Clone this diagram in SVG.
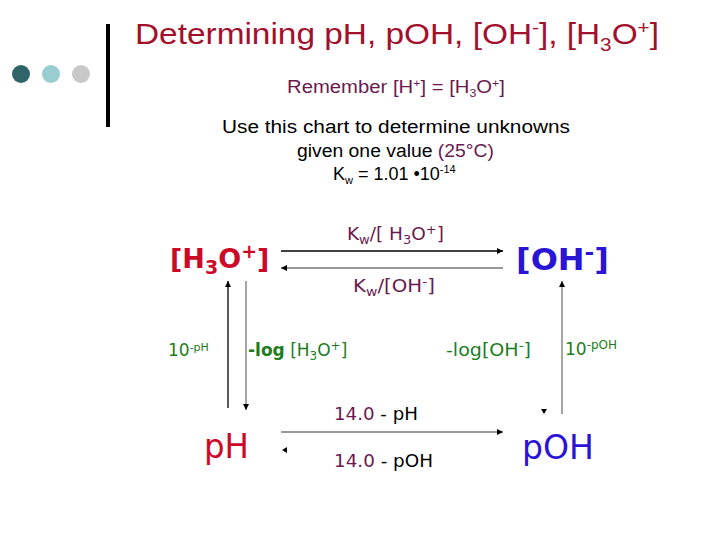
<svg xmlns="http://www.w3.org/2000/svg" width="720" height="540" viewBox="0 0 720 540">
<style>
.title{font-family:"Liberation Sans","DejaVu Sans",sans-serif;font-size:29px;fill:#a3102c}
.hdr{font-family:"Liberation Sans","DejaVu Sans",sans-serif;font-size:18px;fill:#000}
.pur{fill:#6b1a4f}
.lbl{font-family:"DejaVu Sans",sans-serif;font-size:17px}
.grn{fill:#1d7d1d}
.red{fill:#cc0a28}
.blue{fill:#2a14d6}
.ln{stroke:#000;stroke-width:1.3;fill:none}
.lg{stroke:#777;stroke-width:1.3;fill:none}
</style>
<defs>
<marker id="ah" viewBox="0 0 8 8" refX="8" refY="4" markerWidth="6" markerHeight="6" orient="auto" markerUnits="userSpaceOnUse">
<path d="M0,0 L8,4 L0,8 z" fill="#000"/>
</marker>
</defs>
<g id="bullets">
<circle cx="21" cy="74" r="9" fill="#2f6468"/>
<circle cx="51" cy="74" r="9" fill="#98cdd1"/>
<circle cx="81" cy="74" r="9" fill="#c8c8c8"/>
<rect x="106" y="24" width="4" height="103" fill="#000"/>
</g>
<g id="title">
<text class="title" x="135" y="44" textLength="524" lengthAdjust="spacingAndGlyphs">Determining pH, pOH, [OH<tspan dy="-10" font-size="18">-</tspan><tspan dy="10">], [H</tspan><tspan dy="7" font-size="18">3</tspan><tspan dy="-7">O</tspan><tspan dy="-10" font-size="18">+</tspan><tspan dy="10">]</tspan></text>
</g>
<g id="header">
<text class="hdr pur" x="287" y="93" font-size="17" textLength="218" lengthAdjust="spacingAndGlyphs">Remember [H<tspan dy="-6" font-size="11">+</tspan><tspan dy="6">] = [H</tspan><tspan dy="4" font-size="11">3</tspan><tspan dy="-4">O</tspan><tspan dy="-6" font-size="11">+</tspan><tspan dy="6">]</tspan></text>
<text class="hdr" x="222" y="133" textLength="348" lengthAdjust="spacingAndGlyphs">Use this chart to determine unknowns</text>
<text class="hdr" x="297" y="157" textLength="197" lengthAdjust="spacingAndGlyphs">given one value <tspan class="pur">(25°C)</tspan></text>
<text class="hdr" x="333" y="180">K<tspan dy="4" font-size="11">w</tspan><tspan dy="-4"> = 1.01 •10</tspan><tspan dy="-7" font-size="11">-14</tspan></text>
</g>
<g id="connectors">
<line class="ln" x1="281" y1="251" x2="503" y2="251" marker-end="url(#ah)"/>
<line class="lg" x1="503" y1="268" x2="281" y2="268" marker-end="url(#ah)"/>
<line class="ln" x1="228" y1="408" x2="228" y2="281" marker-end="url(#ah)"/>
<line class="lg" x1="246" y1="281" x2="246" y2="410" marker-end="url(#ah)"/>
<line class="lg" x1="562" y1="414" x2="562" y2="281" marker-end="url(#ah)"/>
<line class="lg" x1="281" y1="432" x2="503" y2="432" marker-end="url(#ah)"/>
<path d="M541,409 L547,409 L544,414 z" fill="#000"/>
<path d="M287,447 L287,453 L282,450 z" fill="#000"/>
</g>
<g id="node-h3o">
<text class="red" x="170" y="268" font-family="'DejaVu Sans',sans-serif" font-weight="bold" font-size="27">[H<tspan dy="6" font-size="19">3</tspan><tspan dy="-6">O</tspan><tspan dy="-10" font-size="19">+</tspan><tspan dy="10">]</tspan></text>
</g>
<g id="node-oh">
<text class="blue" x="516" y="270" font-family="'DejaVu Sans',sans-serif" font-weight="bold" font-size="30" textLength="93" lengthAdjust="spacingAndGlyphs">[OH<tspan dy="-10" font-size="22">-</tspan><tspan dy="10">]</tspan></text>
</g>
<g id="node-ph">
<text class="red" x="204" y="458" font-family="'DejaVu Sans',sans-serif" font-size="34" textLength="45" lengthAdjust="spacingAndGlyphs">pH</text>
</g>
<g id="node-poh">
<text class="blue" x="522" y="459" font-family="'DejaVu Sans',sans-serif" font-size="34" textLength="72" lengthAdjust="spacingAndGlyphs">pOH</text>
</g>
<g id="labels">
<text class="lbl pur" x="347" y="240" textLength="97" lengthAdjust="spacingAndGlyphs">K<tspan dy="4" font-size="12">w</tspan><tspan dy="-4">/[ H</tspan><tspan dy="4" font-size="12">3</tspan><tspan dy="-4">O</tspan><tspan dy="-6" font-size="12">+</tspan><tspan dy="6">]</tspan></text>
<text class="lbl pur" x="353" y="292" textLength="82" lengthAdjust="spacingAndGlyphs">K<tspan dy="4" font-size="12">w</tspan><tspan dy="-4">/[OH</tspan><tspan dy="-6" font-size="12">-</tspan><tspan dy="6">]</tspan></text>
<text class="lbl grn" x="168" y="356">10<tspan dy="-5" font-size="11">-pH</tspan></text>
<text class="lbl grn" x="248" y="356"><tspan font-weight="bold">-log</tspan> [H<tspan dy="4" font-size="12">3</tspan><tspan dy="-4">O</tspan><tspan dy="-6" font-size="12">+</tspan><tspan dy="6">]</tspan></text>
<text class="lbl grn" x="446" y="356" textLength="85" lengthAdjust="spacingAndGlyphs">-log[OH<tspan dy="-6" font-size="12">-</tspan><tspan dy="6">]</tspan></text>
<text class="lbl grn" x="565" y="355">10<tspan dy="-6" font-size="12">-pOH</tspan></text>
<text class="lbl" x="334" y="420" textLength="84" lengthAdjust="spacingAndGlyphs"><tspan class="pur">14.0</tspan> - pH</text>
<text class="lbl" x="334" y="467" textLength="99" lengthAdjust="spacingAndGlyphs"><tspan class="pur">14.0</tspan> - pOH</text>
</g>
</svg>
